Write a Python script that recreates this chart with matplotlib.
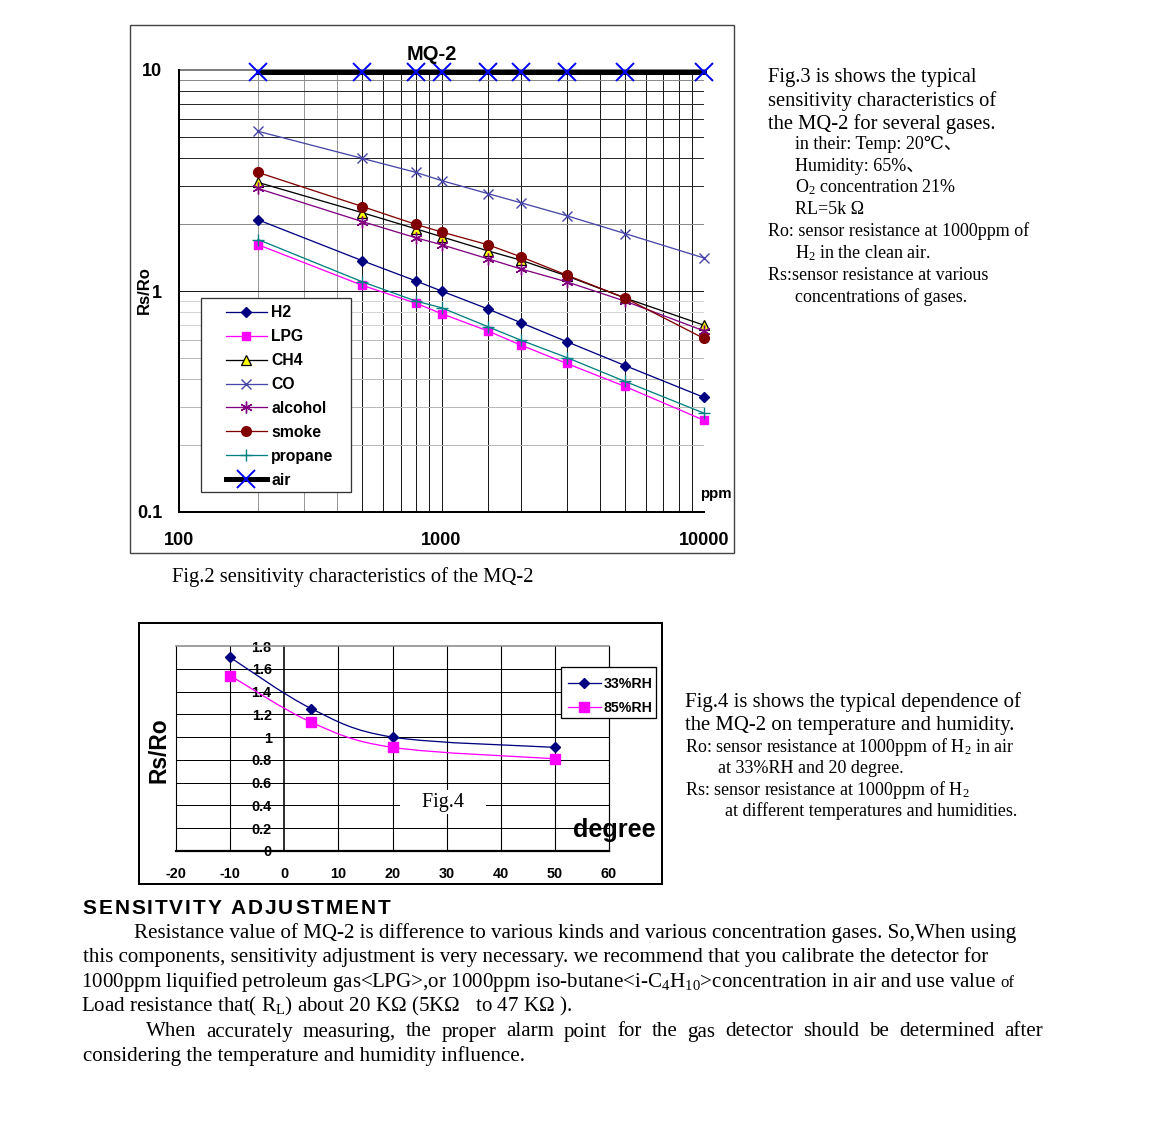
import numpy as np
import matplotlib
matplotlib.use("Agg")
import matplotlib.pyplot as plt
from matplotlib.font_manager import FontProperties
from matplotlib.patches import Rectangle, PathPatch
from matplotlib.path import Path
from matplotlib.lines import Line2D
from matplotlib.ticker import NullLocator

# ---------------- data : Fig.2 ----------------
ppm = [200, 500, 800, 1000, 1500, 2000, 3000, 5000, 10000]
h2 = [2.10, 1.37, 1.11, 1.00, 0.83, 0.72, 0.59, 0.46, 0.33]
lpg = [1.62, 1.06, 0.88, 0.79, 0.66, 0.57, 0.47, 0.37, 0.26]
ch4 = [3.10, 2.26, 1.91, 1.76, 1.52, 1.38, 1.17, 0.93, 0.70]
co = [5.28, 3.98, 3.44, 3.16, 2.76, 2.51, 2.19, 1.82, 1.41]
alcohol = [2.91, 2.06, 1.74, 1.62, 1.40, 1.26, 1.10, 0.90, 0.66]
smoke = [3.44, 2.41, 2.00, 1.85, 1.62, 1.43, 1.18, 0.93, 0.61]
propane = [1.71, 1.10, 0.90, 0.84, 0.69, 0.60, 0.50, 0.39, 0.28]
air = [9.75, 9.75, 9.75, 9.75, 9.75, 9.75, 9.75, 9.75, 9.75]
fig2_xticks = [100, 1000, 10000]
fig2_xticklabels = ["100", "1000", "10000"]
fig2_yticks = [0.1, 1, 10]
fig2_yticklabels = ["0.1", "1", "10"]

# ---------------- data : Fig.4 ----------------
temp = [-10, 5, 20, 50]
rh33 = [1.70, 1.25, 1.00, 0.91]
rh85 = [1.54, 1.13, 0.91, 0.81]
fig4_xticks = [-20, -10, 0, 10, 20, 30, 40, 50, 60]
fig4_xticklabels = ["-20", "-10", "0", "10", "20", "30", "40", "50", "60"]
fig4_yticks = [0, 0.2, 0.4, 0.6, 0.8, 1.0, 1.2, 1.4, 1.6, 1.8]
fig4_yticklabels = ["0", "0.2", "0.4", "0.6", "0.8", "1", "1.2", "1.4", "1.6", "1.8"]

# ---------------- fonts ----------------
COND = dict(family="Liberation Sans", weight="bold")
SERIF = ["Liberation Serif", "DejaVu Serif", "Noto Sans CJK SC"]
plt.rcParams["mathtext.fontset"] = "custom"
plt.rcParams["mathtext.rm"] = "Liberation Serif"
plt.rcParams["mathtext.it"] = "Liberation Serif:italic"
plt.rcParams["mathtext.bf"] = "Liberation Serif:bold"

W, H = 1150, 1132
PX = 72 / 100.0  # points per pixel
fig = plt.figure(figsize=(W / 100, H / 100), dpi=100)
renderer = fig.canvas.get_renderer()


def fxy(x, y):
    return (x / W, 1 - y / H)


def add_ax(x0, y0, x1, y1):
    return fig.add_axes([x0 / W, 1 - y1 / H, (x1 - x0) / W, (y1 - y0) / H])


def fig_rect(ax, x0, y0, x1, y1, fill=False, ec="black", lw=1.0, z=1):
    r = Rectangle(fxy(x0, y1), (x1 - x0) / W, (y1 - y0) / H, transform=fig.transFigure,
                  fill=fill, facecolor="white", edgecolor=ec, linewidth=lw * PX,
                  clip_on=False, zorder=z)
    if ax is None:
        fig.add_artist(r)
    else:
        ax.add_artist(r)
    return r


def width_px(s, size, **kw):
    t = fig.text(0, 0, s, size=size, **kw)
    w = t.get_window_extent(renderer).width
    t.remove()
    return w


def fit(s, target, **kw):
    return 10.0 * target / width_px(s, 10.0, **kw)


def txt(x, y, s, size, **kw):
    kw.setdefault("family", SERIF)
    kw.setdefault("va", "baseline")
    kw.setdefault("ha", "left")
    return fig.text(*fxy(x, y), s, size=size, **kw)


# ======================= Fig.2 =======================
fig_rect(None, 130, 25, 734, 553, ec="#444444", lw=1.4)
ax = add_ax(179, 70, 704, 512)
ax.set_xscale("log")
ax.set_yscale("log")
ax.set_xlim(100, 10000)
ax.set_ylim(0.1, 10)
for s in ax.spines.values():
    s.set_visible(False)

grid_v_light = [200, 300, 400]
grid_v_dark = [500, 600, 700, 800, 900, 1000, 1500, 2000, 3000, 4000, 5000, 6000, 7000, 8000, 9000, 10000]
grid_h_upper = [2, 3, 4, 5, 6, 7, 8, 9]
grid_h_lower = [0.2, 0.3, 0.4, 0.5, 0.6, 0.7, 0.8, 0.9]
for v in grid_v_light:
    ax.axvline(v, color="#9a9a9a", lw=1.0 * PX, zorder=1)
for v in grid_v_dark:
    ax.axvline(v, color="#1a1a1a", lw=1.0 * PX, zorder=1)
for v in grid_h_upper:
    ax.axhline(v, color="#2a2a2a" if v not in (2, 9) else "#8a8a8a", lw=1.0 * PX, zorder=1)
for v in grid_h_lower:
    ax.axhline(v, color="#b8b8b8" if v < 0.7 else "#d4d4d4", lw=1.0 * PX, zorder=1)
ax.axhline(1, color="#1a1a1a", lw=1.0 * PX, zorder=1)
ax.axhline(10, color="#808080", lw=2.0 * PX, zorder=1, clip_on=False)
ax.axvline(100, color="#000000", lw=2.0 * PX, zorder=2, clip_on=False)
ax.axhline(0.1, color="#000000", lw=2.0 * PX, zorder=2, clip_on=False)

series = [
    ("H2", h2, dict(color="#000080", lw=1.3 * PX, marker="D", ms=5.2, mfc="#000080", mec="#000080")),
    ("LPG", lpg, dict(color="#FF00FF", lw=1.3 * PX, marker="s", ms=6.3, mfc="#FF00FF", mec="#FF00FF")),
    ("CH4", ch4, dict(color="#000000", lw=1.3 * PX, marker="^", ms=6.5, mfc="#FFFF00", mec="#000000", mew=0.9)),
    ("CO", co, dict(color="#4646A8", lw=1.3 * PX, marker="x", ms=7.0, mew=1.0)),
    ("alcohol", alcohol, dict(color="#800080", lw=1.3 * PX, marker=(6, 2, 0), ms=8.5, mew=1.0)),
    ("smoke", smoke, dict(color="#800000", lw=1.3 * PX, marker="o", ms=7.0, mfc="#800000", mec="#800000")),
    ("propane", propane, dict(color="#008080", lw=1.3 * PX, marker="+", ms=8.0, mew=1.0)),
    ("air", air, dict(color="#000000", lw=5.0 * PX, marker="x", ms=13.5, mec="#0000FF", mew=1.4)),
]
for name, vals, st in series:
    ax.plot(ppm, vals, label=name, clip_on=False, zorder=3, **st)

fp_tick2 = FontProperties(size=13.0, **COND)
ax.set_xticks(fig2_xticks, fig2_xticklabels, fontproperties=fp_tick2)
ax.set_yticks(fig2_yticks, fig2_yticklabels, fontproperties=fp_tick2)
ax.xaxis.set_minor_locator(NullLocator())
ax.yaxis.set_minor_locator(NullLocator())
ax.tick_params(axis="x", length=0, pad=14.5)
ax.tick_params(axis="y", length=0, pad=12.0)

fig_rect(ax, 201, 298, 351, 492, fill=True, ec="#333333", lw=1.3, z=4.5)
ax.legend(loc="upper left", bbox_to_anchor=fxy(226, 305.5), bbox_transform=fig.transFigure,
          frameon=False, borderpad=0, borderaxespad=0, handlelength=2.6, handletextpad=0.27,
          labelspacing=0.565, prop=FontProperties(size=11.3, **COND))

fig.text(*fxy(432, 54), "MQ-2", size=14.5, ha="center", va="center", **COND)
fig.text(*fxy(716, 494), "ppm", size=10.8, ha="center", va="center", **COND)
fig.text(*fxy(144, 290), "Rs/Ro", size=12.0, ha="center", va="center", rotation=90, **COND)

cap = "Fig.2 sensitivity characteristics of the MQ-2"
txt(171.7, 581.7, cap, fit(cap, 363.3, family=SERIF))

# ======================= Fig.4 =======================
fig_rect(None, 139, 623, 662, 884, ec="#000000", lw=2.0)
ax4 = add_ax(176, 646, 609, 851)
ax4.set_xlim(-20, 60)
ax4.set_ylim(0, 1.8)
ax4.spines["left"].set_position(("data", 0))
ax4.spines["left"].set_linewidth(1.6 * PX)
ax4.spines["bottom"].set_linewidth(2.2 * PX)
ax4.spines["top"].set_color("#8a8a8a")
ax4.spines["top"].set_linewidth(1.6 * PX)
ax4.spines["right"].set_linewidth(1.2 * PX)
grid4_x = [-20, -10, 10, 20, 30, 40, 50]
grid4_y = [0.2, 0.4, 0.6, 0.8, 1.0, 1.2, 1.4, 1.6]
for v in grid4_x:
    ax4.axvline(v, color="#000000", lw=1.1 * PX, zorder=1, clip_on=False)
for v in grid4_y:
    ax4.axhline(v, color="#000000", lw=1.0 * PX, zorder=1)

fp_tick4 = FontProperties(size=10.4, **COND)
ax4.set_xticks(fig4_xticks, fig4_xticklabels, fontproperties=fp_tick4)
ax4.set_yticks(fig4_yticks, fig4_yticklabels, fontproperties=fp_tick4)
ax4.tick_params(axis="x", length=0, pad=11.5)
ax4.tick_params(axis="y", length=0, pad=9.0)


def smooth_path(xs, ys):
    P = np.column_stack([xs, ys]).astype(float)
    n = len(P)
    verts = [P[0]]
    codes = [Path.MOVETO]
    for i in range(n - 1):
        p0 = P[i - 1] if i > 0 else P[i]
        p1 = P[i]
        p2 = P[i + 1]
        p3 = P[i + 2] if i + 2 < n else P[i + 1]
        verts += [p1 + (p2 - p0) / 6.0, p2 - (p3 - p1) / 6.0, p2]
        codes += [Path.CURVE4] * 3
    return Path(verts, codes)


curves4 = [
    ("33%RH", rh33, "#000080", "D", 5.5),
    ("85%RH", rh85, "#FF00FF", "s", 6.5),
]
handles = []
for name, vals, col, mk, ms in curves4:
    ax4.add_patch(PathPatch(smooth_path(temp, vals), fill=False, edgecolor=col, lw=1.3 * PX, zorder=3))
    ax4.plot(temp, vals, linestyle="none", marker=mk, ms=ms, color=col, zorder=4, clip_on=False)
    handles.append(Line2D([], [], color=col, lw=1.3 * PX, marker=mk, ms=ms))

fig_rect(ax4, 561, 667, 656, 718, fill=True, ec="#000000", lw=1.3, z=4.5)
ax4.legend(handles, [c[0] for c in curves4], loc="upper left", bbox_to_anchor=fxy(568, 677),
           bbox_transform=fig.transFigure, frameon=False, borderpad=0, borderaxespad=0,
           handlelength=2.3, handletextpad=0.2, labelspacing=0.68,
           prop=FontProperties(size=10.2, **COND))

ax4.text(*fxy(443, 802), "    Fig.4    ", transform=fig.transFigure, size=14.5, family=SERIF,
         ha="center", va="center", zorder=5,
         bbox=dict(facecolor="white", edgecolor="none", pad=1.5))
fig.text(*fxy(614, 830), "degree", size=18.2, ha="center", va="center", **COND)
fig.text(*fxy(159, 750), "Rs/Ro", size=16.4, ha="center", va="center", rotation=90, **COND)

# ======================= side texts =======================
m3 = fit("sensitivity characteristics of", 229, family=SERIF)
s3 = fit("Ro: sensor resistance at 1000ppm of", 261.7, family=SERIF)
fig3_lines = [
    (768.3, 81.7, "Fig.3 is shows the typical", m3),
    (768.3, 105.7, "sensitivity characteristics of", m3),
    (768.3, 129.0, "the MQ-2 for several gases.", m3),
    (795.0, 149.0, "in their: Temp: 20\u2103\u3001", s3),
    (795.0, 171.0, "Humidity: 65%\u3001", s3),
    (795.0, 192.7, "O$_2$ concentration 21%", s3),
    (795.0, 214.3, "RL=5k \u03a9", s3),
    (768.3, 236.0, "Ro: sensor resistance at 1000ppm of", s3),
    (795.0, 258.3, "H$_2$ in the clean air.", s3),
    (768.3, 280.0, "Rs:sensor resistance at various", s3),
    (795.0, 301.7, "concentrations of gases.", s3),
]
for x, y, s, sz in fig3_lines:
    txt(x, y, s, sz)

m4 = fit("Fig.4 is shows the typical dependence of", 338, family=SERIF)
s4 = fit("at different temperatures and humidities.", 293, family=SERIF)
fig4_lines = [
    (685.0, 706.7, "Fig.4 is shows the typical dependence of", m4),
    (685.0, 730.0, "the MQ-2 on temperature and humidity.", m4),
    (685.0, 752.3, "Ro: sensor resistance at 1000ppm of H$_2$ in air", s4),
    (718.3, 773.3, "at 33%RH and 20 degree.", s4),
    (685.0, 795.0, "Rs: sensor resistance at 1000ppm of H$_2$", s4),
    (725.0, 816.0, "at different temperatures and humidities.", s4),
]
for x, y, s, sz in fig4_lines:
    txt(x, y, s, sz)

# ======================= bottom section =======================
head = "SENSITVITY ADJUSTMENT"
hsize = 15.0
hfam = dict(family="Liberation Sans", weight="bold")
char_w = [width_px(c if c != " " else "\u00a0", hsize, **hfam) for c in head]
track = (307.5 - sum(char_w)) / (len(head) - 1)
cx = 82.6
for c, w in zip(head, char_w):
    if c != " ":
        txt(cx, 914.0, c, hsize, **hfam)
    cx += w + track

line1 = "Resistance value of MQ-2 is difference to various kinds and various concentration gases. So,When using"
ps = fit(line1, 884.0, family=SERIF)
txt(134.0, 938.3, line1, ps)
txt(82.6, 962.4, "this components, sensitivity adjustment is very necessary. we recommend that you calibrate the detector for", ps)
line3 = "1000ppm liquified petroleum gas<LPG>,or 1000ppm iso-butane<i-C$_4$H$_{10}$>concentration in air and use value"
t3 = txt(81.0, 986.9, line3, ps)
x3 = 81.0 + t3.get_window_extent(renderer).width
txt(x3 + 4, 986.9, "of", ps * 0.8)
txt(81.0, 1011.0, "Load resistance that( R$_\\mathrm{L}$) about 20 K\u03a9 (5K\u03a9   to 47 K\u03a9 ).", ps)

words5 = "When accurately measuring, the proper alarm point for the gas detector should be determined after".split()
ww = [width_px(w, ps, family=SERIF) for w in words5]
gap = (1043.0 - 145.6 - sum(ww)) / (len(words5) - 1)
cx = 145.6
for w, wd in zip(words5, ww):
    txt(cx, 1036.5, w, ps)
    cx += wd + gap
txt(82.6, 1060.7, "considering the temperature and humidity influence.", ps)

fig.savefig("out.png", dpi=100, facecolor="white")
